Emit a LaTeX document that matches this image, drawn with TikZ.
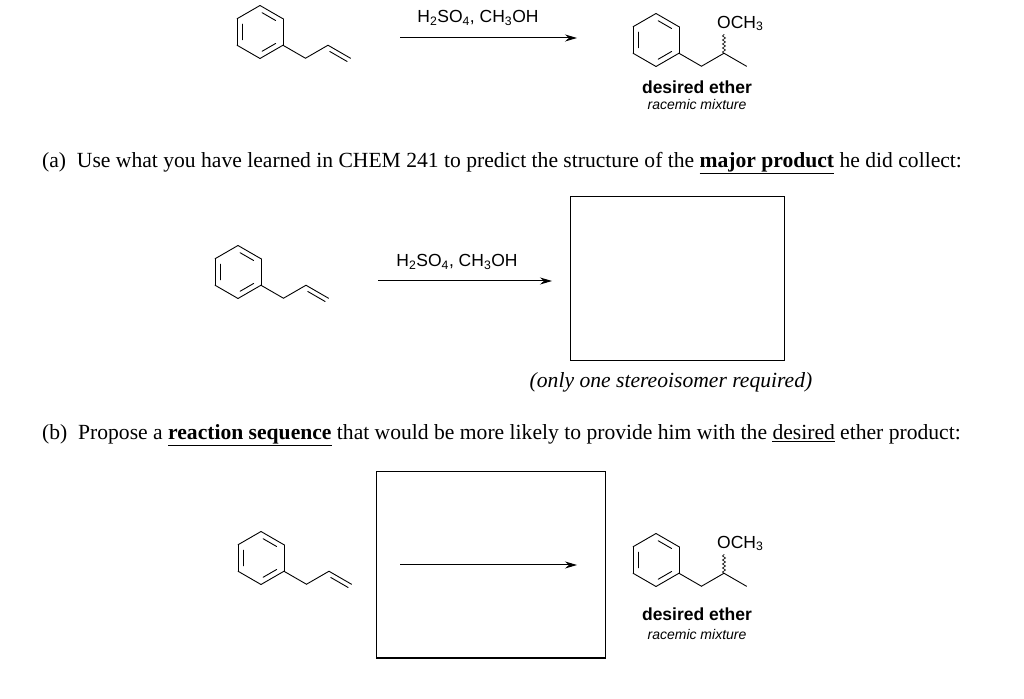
\documentclass[tikz,border=0pt]{standalone}
\usepackage{fontspec}
\setmainfont{Liberation Serif}
\newfontfamily\chemsf{Liberation Sans}
\usetikzlibrary{arrows.meta,decorations.pathmorphing,calc}
\tikzset{
  bond/.style={line width=0.9pt,line cap=round},
  rxn/.style={line width=1pt,-{Stealth[length=12pt,width=7pt]}},
  answerbox/.style={draw,line width=1pt},
  reag/.style={font=\chemsf\fontsize{17.5}{20}\selectfont,inner sep=0pt},
  lbl/.style={font=\chemsf\bfseries\fontsize{17.5}{20}\selectfont,inner sep=0pt},
  sublbl/.style={font=\chemsf\itshape\fontsize{14}{16}\selectfont,inner sep=0pt},
  question/.style={font=\fontsize{21.6}{25}\selectfont,inner sep=0pt,anchor=west},
  pics/ring/.style={code={
    \foreach \a in {30,90,...,330}{\draw[bond] (\a:26.5) -- (\a+60:26.5);}
    \foreach \a in {30,150,270}{\draw[bond] ($(\a:20.5)!0.12!(\a+60:20.5)$) -- ($(\a:20.5)!0.88!(\a+60:20.5)$);}
  }},
  pics/allyl/.style={code={
    \pic{ring};
    \draw[bond] (330:26.5) -- ++(-30:26) coordinate(-c1) -- ++(30:26) coordinate(-c2) -- ++(-30:26) coordinate(-c3);
    \draw[bond] ($(-c2)!0.18!(-c3)+(-120:4.5)$) -- ($(-c2)!0.95!(-c3)+(-120:4.5)$);
  }},
  pics/ether/.style={code={
    \pic{ring};
    \draw[bond] (330:26.5) -- ++(-30:26) coordinate(-c1) -- ++(30:26) coordinate(-c2) -- ++(-30:26);
    \draw[line width=0.6pt,decorate,decoration={snake,amplitude=1.6pt,segment length=4pt}] (-c2) -- ++(0,19);
    \node[reag,anchor=base west] at ($(-c2)+(-7,25)$) {OCH\textsubscript{3}};
  }},
}
\begin{document}
\begin{tikzpicture}[x=1pt,y=1pt]
\useasboundingbox (0,0) rectangle (1024,698);
% top row
\pic (r1) at (260,666) {allyl};
\coordinate (a1s) at (400,660); \coordinate (a1e) at (577,660);
\draw[rxn] (a1s) -- (a1e);
\node[reag] (g1) at (478,680) {H\textsubscript{2}SO\textsubscript{4}, CH\textsubscript{3}OH};
\pic (p1) at (656,658) {ether};
\node[lbl] (d1) at (697,611) {desired ether};
\node[sublbl] (m1) at (697,593) {racemic mixture};
% (a)
\node[question] (qa) at (42,535) {(a)\ \ Use what you have learned in CHEM 241 to predict the structure of the \textbf{\underline{major product}} he did collect:};
\pic (r2) at (238,426) {allyl};
\coordinate (a2s) at (378,417); \coordinate (a2e) at (552,417);
\draw[rxn] (a2s) -- (a2e);
\node[reag] (g2) at (457,436) {H\textsubscript{2}SO\textsubscript{4}, CH\textsubscript{3}OH};
\node[answerbox,minimum width=214pt,minimum height=164pt] (box1) at (677,419) {};
\node[font=\itshape\fontsize{21.6}{25}\selectfont,inner sep=0pt] (st) at (671,316) {(only one stereoisomer required)};
% (b)
\node[question] (qb) at (42,263) {(b)\ \ Propose a \textbf{\underline{reaction sequence}} that would be more likely to provide him with the \underline{desired} ether product:};
\node[answerbox,minimum width=229pt,minimum height=186pt] (box2) at (490.5,133) {};
\pic (r3) at (261,140) {allyl};
\coordinate (a3s) at (400,133); \coordinate (a3e) at (577,133);
\draw[rxn] (a3s) -- (a3e);
\pic (p2) at (656,138) {ether};
\node[lbl] (d2) at (697,84) {desired ether};
\node[sublbl] (m2) at (697,64) {racemic mixture};
\end{tikzpicture}
\end{document}
